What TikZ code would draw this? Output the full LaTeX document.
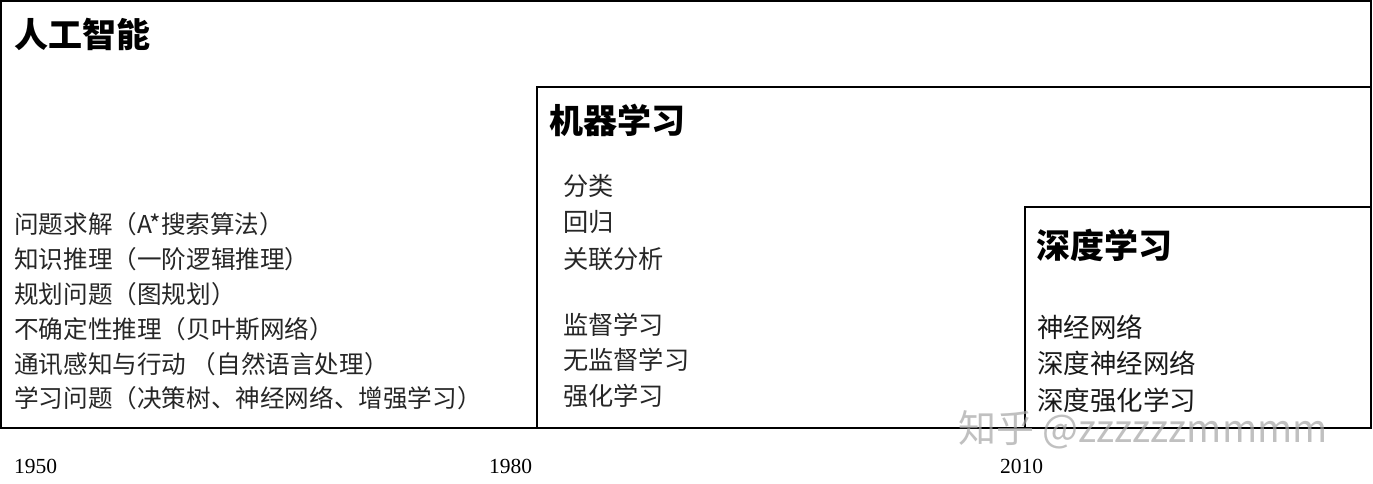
\documentclass[tikz,border=0pt]{standalone}
\usepackage{fontspec}
\setmainfont{Liberation Serif}
\newfontfamily\cjk{Noto Sans CJK SC}
\begin{document}
\begin{tikzpicture}[x=1pt,y=-1pt,
  frame/.style={draw=black,line width=2.2pt},
  ttl/.style={anchor=base west,inner sep=0pt,font=\cjk\fontsize{34}{38}\selectfont\bfseries,text=black},
  itemL/.style={anchor=base west,inner sep=0pt,font=\cjk\fontsize{24.6}{28}\selectfont,text=black!85},
  itemM/.style={anchor=base west,inner sep=0pt,font=\cjk\fontsize{25.2}{29}\selectfont,text=black!85},
  itemD/.style={anchor=base west,inner sep=0pt,font=\cjk\fontsize{26.5}{30}\selectfont,text=black!90},
  year/.style={anchor=base west,inner sep=0pt,font=\fontsize{21.5}{24}\selectfont,text=black},
  wm/.style={anchor=base west,inner sep=0pt,font=\cjk\fontsize{38}{42}\selectfont,text=black!35,opacity=0.7}]
\useasboundingbox (0,0) rectangle (1373,484);
\fill[white] (0,0) rectangle (1373,484);
% boxes
\draw[frame] (1,1) rectangle (1371,428);
\draw[frame] (537,87) rectangle (1371,428);
\draw[frame] (1025,207) rectangle (1371,428);
% titles
\node[ttl] (ai) at (14,48) {人工智能};
\node[ttl] (ml) at (549,134) {机器学习};
\node[ttl] (dl) at (1036,258) {深度学习};
% AI items
\node[itemL] (a1) at (14,233) {问题求解（A*搜索算法）};
\node[itemL] (a2) at (14,268) {知识推理（一阶逻辑推理）};
\node[itemL] (a3) at (14,303) {规划问题（图规划）};
\node[itemL] (a4) at (14,338) {不确定性推理（贝叶斯网络）};
\node[itemL] (a5) at (14,373) {通讯感知与行动 （自然语言处理）};
\node[itemL] (a6) at (14,407) {学习问题（决策树、神经网络、增强学习）};
% ML items
\node[itemM] (m1) at (563,195) {分类};
\node[itemM] (m2) at (563,231) {回归};
\node[itemM] (m3) at (563,268) {关联分析};
\node[itemM] (m4) at (563,334) {监督学习};
\node[itemM] (m5) at (563,369) {无监督学习};
\node[itemM] (m6) at (563,405) {强化学习};
% DL items
\node[itemD] (d1) at (1037,337) {神经网络};
\node[itemD] (d2) at (1037,373) {深度神经网络};
\node[itemD] (d3) at (1037,410) {深度强化学习};
% years
\node[year] (y1) at (14,473) {1950};
\node[year] (y2) at (489,473) {1980};
\node[year] (y3) at (1000,473) {2010};
% watermark
\node[wm] (w) at (958,442) {知乎 @zzzzzzmmmm};
\end{tikzpicture}
\end{document}
